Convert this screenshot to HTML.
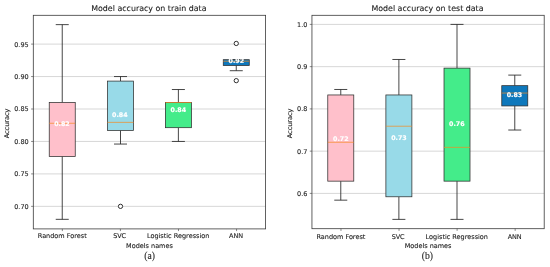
<!DOCTYPE html>
<html lang="en"><head><meta charset="utf-8"><title>Model accuracy box plots</title>
<style>
html,body{margin:0;padding:0;background:#fff;}
body{width:550px;height:267px;overflow:hidden;}
svg{display:block;font-family:"DejaVu Sans","Liberation Sans",sans-serif;}
svg text{stroke:#222;stroke-width:0.1px;}
svg text.w{stroke:#fff;stroke-width:0.15px;}
</style></head><body>
<svg width="550" height="267" viewBox="0 0 550 267">
<rect width="550" height="267" fill="#fff"/>
<line x1="33.30" x2="265.60" y1="206.35" y2="206.35" stroke="#c6c6c6" stroke-width="0.7"/>
<line x1="33.30" x2="265.60" y1="173.90" y2="173.90" stroke="#c6c6c6" stroke-width="0.7"/>
<line x1="33.30" x2="265.60" y1="141.45" y2="141.45" stroke="#c6c6c6" stroke-width="0.7"/>
<line x1="33.30" x2="265.60" y1="109.00" y2="109.00" stroke="#c6c6c6" stroke-width="0.7"/>
<line x1="33.30" x2="265.60" y1="76.55" y2="76.55" stroke="#c6c6c6" stroke-width="0.7"/>
<line x1="33.30" x2="265.60" y1="44.10" y2="44.10" stroke="#c6c6c6" stroke-width="0.7"/>
<path d="M62.24 102.51V24.63M62.24 156.38V219.33M55.74 24.63H68.74M55.74 219.33H68.74" stroke="#262626" stroke-width="0.85" fill="none"/>
<rect x="49.24" y="102.51" width="26.00" height="53.87" fill="#ffc0cb" stroke="#2e2e2e" stroke-width="0.75"/>
<line x1="49.24" x2="75.24" y1="123.28" y2="123.28" stroke="#f58a1f" stroke-width="0.7"/>
<text x="62.00" y="126.35" text-anchor="middle" font-size="6.3" class="w" font-weight="bold" fill="#fff">0.82</text>
<path d="M120.51 81.09V76.55M120.51 130.42V144.05M114.01 76.55H127.01M114.01 144.05H127.01" stroke="#262626" stroke-width="0.85" fill="none"/>
<rect x="107.51" y="81.09" width="26.00" height="49.32" fill="#98dae8" stroke="#2e2e2e" stroke-width="0.75"/>
<line x1="107.51" x2="133.51" y1="122.37" y2="122.37" stroke="#f58a1f" stroke-width="0.7"/>
<circle cx="120.51" cy="206.35" r="2.15" fill="#fff" stroke="#262626" stroke-width="0.95"/>
<text x="119.80" y="117.05" text-anchor="middle" font-size="6.3" class="w" font-weight="bold" fill="#fff">0.84</text>
<path d="M178.39 102.51V89.53M178.39 127.69V141.45M171.89 89.53H184.89M171.89 141.45H184.89" stroke="#262626" stroke-width="0.85" fill="none"/>
<rect x="165.39" y="102.51" width="26.00" height="25.18" fill="#44ec8a" stroke="#2e2e2e" stroke-width="0.75"/>
<line x1="165.39" x2="191.39" y1="102.51" y2="102.51" stroke="#f58a1f" stroke-width="0.7"/>
<text x="178.30" y="111.95" text-anchor="middle" font-size="6.3" class="w" font-weight="bold" fill="#fff">0.84</text>
<path d="M236.26 59.68V59.68M236.26 65.52V70.71M229.76 59.68H242.76M229.76 70.71H242.76" stroke="#262626" stroke-width="0.85" fill="none"/>
<rect x="223.26" y="59.68" width="26.00" height="5.84" fill="#0e78bc" stroke="#2e2e2e" stroke-width="0.75"/>
<line x1="223.26" x2="249.26" y1="61.23" y2="61.23" stroke="#f58a1f" stroke-width="0.7"/>
<circle cx="236.26" cy="43.45" r="2.15" fill="#fff" stroke="#262626" stroke-width="0.95"/>
<circle cx="236.26" cy="80.64" r="2.15" fill="#fff" stroke="#262626" stroke-width="0.95"/>
<text x="236.30" y="62.65" text-anchor="middle" font-size="6.3" class="w" font-weight="bold" fill="#fff">0.92</text>
<rect x="33.30" y="15.30" width="232.30" height="213.60" fill="none" stroke="#3a3a3a" stroke-width="0.8"/>
<line x1="31.10" x2="33.30" y1="206.35" y2="206.35" stroke="#3a3a3a" stroke-width="0.6"/>
<text x="28.70" y="208.75" text-anchor="end" font-size="6.5" fill="#222">0.70</text>
<line x1="31.10" x2="33.30" y1="173.90" y2="173.90" stroke="#3a3a3a" stroke-width="0.6"/>
<text x="28.70" y="176.30" text-anchor="end" font-size="6.5" fill="#222">0.75</text>
<line x1="31.10" x2="33.30" y1="141.45" y2="141.45" stroke="#3a3a3a" stroke-width="0.6"/>
<text x="28.70" y="143.85" text-anchor="end" font-size="6.5" fill="#222">0.80</text>
<line x1="31.10" x2="33.30" y1="109.00" y2="109.00" stroke="#3a3a3a" stroke-width="0.6"/>
<text x="28.70" y="111.40" text-anchor="end" font-size="6.5" fill="#222">0.85</text>
<line x1="31.10" x2="33.30" y1="76.55" y2="76.55" stroke="#3a3a3a" stroke-width="0.6"/>
<text x="28.70" y="78.95" text-anchor="end" font-size="6.5" fill="#222">0.90</text>
<line x1="31.10" x2="33.30" y1="44.10" y2="44.10" stroke="#3a3a3a" stroke-width="0.6"/>
<text x="28.70" y="46.50" text-anchor="end" font-size="6.5" fill="#222">0.95</text>
<line x1="62.34" x2="62.34" y1="228.90" y2="231.10" stroke="#3a3a3a" stroke-width="0.6"/>
<text x="62.24" y="238.45" text-anchor="middle" font-size="6.5" fill="#222">Random Forest</text>
<line x1="120.41" x2="120.41" y1="228.90" y2="231.10" stroke="#3a3a3a" stroke-width="0.6"/>
<text x="119.51" y="238.45" letter-spacing="-0.15" text-anchor="middle" font-size="6.5" fill="#222">SVC</text>
<line x1="178.49" x2="178.49" y1="228.90" y2="231.10" stroke="#3a3a3a" stroke-width="0.6"/>
<text x="178.14" y="238.45" text-anchor="middle" font-size="6.5" fill="#222">Logistic Regression</text>
<line x1="236.56" x2="236.56" y1="228.90" y2="231.10" stroke="#3a3a3a" stroke-width="0.6"/>
<text x="236.06" y="238.45" letter-spacing="-0.1" text-anchor="middle" font-size="6.5" fill="#222">ANN</text>
<text x="149.45" y="247.75" text-anchor="middle" font-size="6.5" fill="#222">Models names</text>
<text x="148.85" y="11.4" text-anchor="middle" font-size="7.9" fill="#222">Model accuracy on train data</text>
<text transform="translate(9.10 123.50) rotate(-90)" text-anchor="middle" font-size="6.5" fill="#222">Accuracy</text>
<text x="149.70" y="258.6" text-anchor="middle" font-size="9.6" font-family="'Liberation Serif',serif" fill="#222">(a)</text>
<line x1="311.95" x2="544.20" y1="193.40" y2="193.40" stroke="#c6c6c6" stroke-width="0.7"/>
<line x1="311.95" x2="544.20" y1="151.15" y2="151.15" stroke="#c6c6c6" stroke-width="0.7"/>
<line x1="311.95" x2="544.20" y1="108.90" y2="108.90" stroke="#c6c6c6" stroke-width="0.7"/>
<line x1="311.95" x2="544.20" y1="66.65" y2="66.65" stroke="#c6c6c6" stroke-width="0.7"/>
<line x1="311.95" x2="544.20" y1="24.40" y2="24.40" stroke="#c6c6c6" stroke-width="0.7"/>
<path d="M340.78 94.96V89.47M340.78 181.15V200.16M334.28 89.47H347.28M334.28 200.16H347.28" stroke="#262626" stroke-width="0.85" fill="none"/>
<rect x="327.78" y="94.96" width="26.00" height="86.19" fill="#ffc0cb" stroke="#2e2e2e" stroke-width="0.75"/>
<line x1="327.78" x2="353.78" y1="142.28" y2="142.28" stroke="#f58a1f" stroke-width="0.7"/>
<text x="340.80" y="140.85" text-anchor="middle" font-size="6.3" class="w" font-weight="bold" fill="#fff">0.72</text>
<path d="M398.89 94.96V59.47M398.89 196.78V219.38M392.39 59.47H405.39M392.39 219.38H405.39" stroke="#262626" stroke-width="0.85" fill="none"/>
<rect x="385.89" y="94.96" width="26.00" height="101.82" fill="#98dae8" stroke="#2e2e2e" stroke-width="0.75"/>
<line x1="385.89" x2="411.89" y1="126.22" y2="126.22" stroke="#f58a1f" stroke-width="0.7"/>
<text x="398.90" y="139.85" text-anchor="middle" font-size="6.3" class="w" font-weight="bold" fill="#fff">0.73</text>
<path d="M457.01 68.13V24.40M457.01 181.15V219.38M450.51 24.40H463.51M450.51 219.38H463.51" stroke="#262626" stroke-width="0.85" fill="none"/>
<rect x="444.01" y="68.13" width="26.00" height="113.02" fill="#44ec8a" stroke="#2e2e2e" stroke-width="0.75"/>
<line x1="444.01" x2="470.01" y1="147.35" y2="147.35" stroke="#f58a1f" stroke-width="0.7"/>
<text x="456.80" y="126.05" text-anchor="middle" font-size="6.3" class="w" font-weight="bold" fill="#fff">0.76</text>
<path d="M514.77 85.66V75.10M514.77 105.94V130.03M508.27 75.10H521.27M508.27 130.03H521.27" stroke="#262626" stroke-width="0.85" fill="none"/>
<rect x="501.77" y="85.66" width="26.00" height="20.28" fill="#0e78bc" stroke="#2e2e2e" stroke-width="0.75"/>
<line x1="501.77" x2="527.77" y1="93.06" y2="93.06" stroke="#f58a1f" stroke-width="0.7"/>
<text x="514.50" y="97.15" text-anchor="middle" font-size="6.3" class="w" font-weight="bold" fill="#fff">0.83</text>
<rect x="311.95" y="15.30" width="232.25" height="213.40" fill="none" stroke="#3a3a3a" stroke-width="0.8"/>
<line x1="309.75" x2="311.95" y1="193.40" y2="193.40" stroke="#3a3a3a" stroke-width="0.6"/>
<text x="307.35" y="195.80" text-anchor="end" font-size="6.5" fill="#222">0.6</text>
<line x1="309.75" x2="311.95" y1="151.15" y2="151.15" stroke="#3a3a3a" stroke-width="0.6"/>
<text x="307.35" y="153.55" text-anchor="end" font-size="6.5" fill="#222">0.7</text>
<line x1="309.75" x2="311.95" y1="108.90" y2="108.90" stroke="#3a3a3a" stroke-width="0.6"/>
<text x="307.35" y="111.30" text-anchor="end" font-size="6.5" fill="#222">0.8</text>
<line x1="309.75" x2="311.95" y1="66.65" y2="66.65" stroke="#3a3a3a" stroke-width="0.6"/>
<text x="307.35" y="69.05" text-anchor="end" font-size="6.5" fill="#222">0.9</text>
<line x1="309.75" x2="311.95" y1="24.40" y2="24.40" stroke="#3a3a3a" stroke-width="0.6"/>
<text x="307.35" y="26.80" text-anchor="end" font-size="6.5" fill="#222">1.0</text>
<line x1="340.98" x2="340.98" y1="228.70" y2="230.90" stroke="#3a3a3a" stroke-width="0.6"/>
<text x="340.88" y="238.70" text-anchor="middle" font-size="6.5" fill="#222">Random Forest</text>
<line x1="399.04" x2="399.04" y1="228.70" y2="230.90" stroke="#3a3a3a" stroke-width="0.6"/>
<text x="398.14" y="238.70" letter-spacing="-0.15" text-anchor="middle" font-size="6.5" fill="#222">SVC</text>
<line x1="457.11" x2="457.11" y1="228.70" y2="230.90" stroke="#3a3a3a" stroke-width="0.6"/>
<text x="456.76" y="238.70" text-anchor="middle" font-size="6.5" fill="#222">Logistic Regression</text>
<line x1="515.17" x2="515.17" y1="228.70" y2="230.90" stroke="#3a3a3a" stroke-width="0.6"/>
<text x="514.67" y="238.70" letter-spacing="-0.1" text-anchor="middle" font-size="6.5" fill="#222">ANN</text>
<text x="428.08" y="247.75" text-anchor="middle" font-size="6.5" fill="#222">Models names</text>
<text x="427.48" y="11.4" text-anchor="middle" font-size="7.9" fill="#222">Model accuracy on test data</text>
<text transform="translate(291.50 123.40) rotate(-90)" text-anchor="middle" font-size="6.5" fill="#222">Accuracy</text>
<text x="427.40" y="258.6" text-anchor="middle" font-size="9.6" font-family="'Liberation Serif',serif" fill="#222">(b)</text>
</svg>
</body></html>
